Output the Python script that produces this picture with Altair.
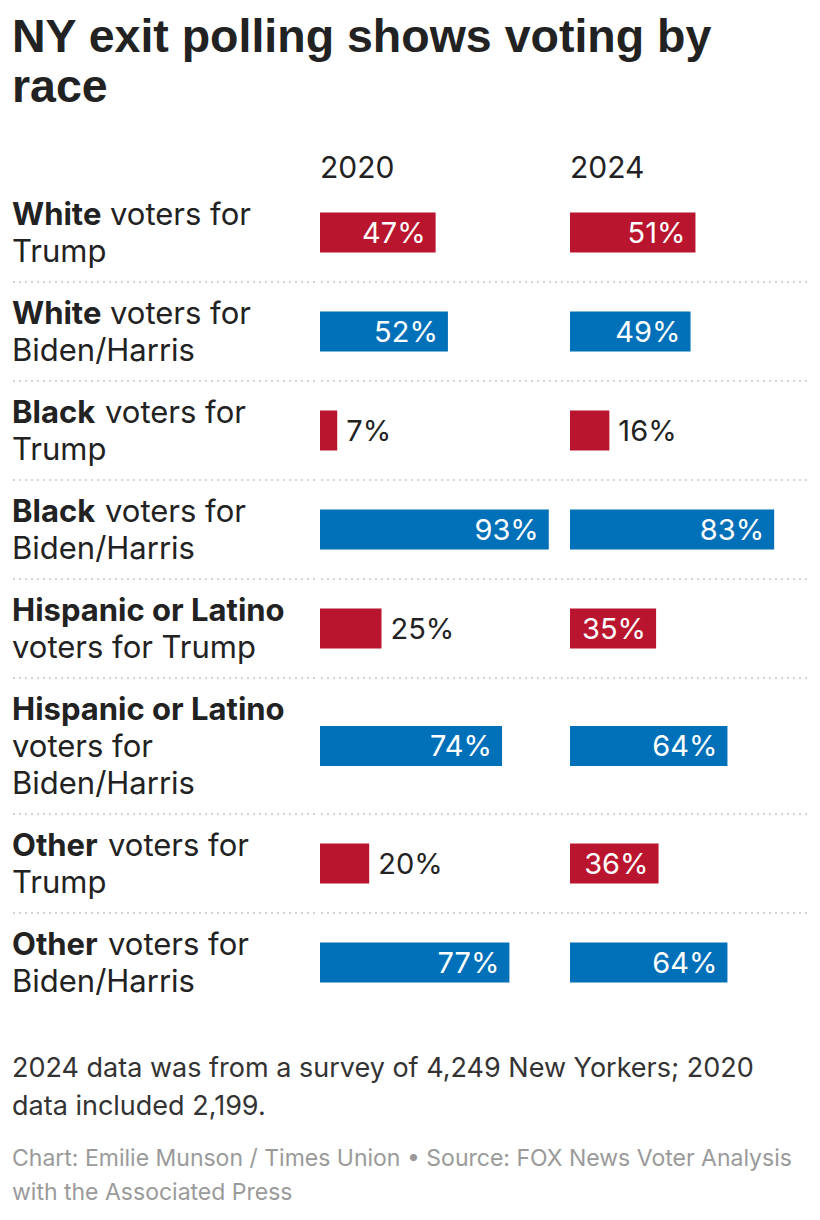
import altair as alt
import pandas as pd

# ---- content -------------------------------------------------------------
TITLE_LINES = ["NY exit polling shows voting by", "race"]
YEARS = ["2020", "2024"]

# "**bold**" marks the group name, "|" separates label lines
ROW_LABELS = [
    "**White** voters for|Trump",
    "**White** voters for|Biden/Harris",
    "**Black** voters for|Trump",
    "**Black** voters for|Biden/Harris",
    "**Hispanic or Latino**|voters for Trump",
    "**Hispanic or Latino**|voters for|Biden/Harris",
    "**Other** voters for|Trump",
    "**Other** voters for|Biden/Harris",
]
CANDIDATES = ["Trump", "Biden/Harris", "Trump", "Biden/Harris",
              "Trump", "Biden/Harris", "Trump", "Biden/Harris"]
SHARE_2020 = [47, 52, 7, 93, 25, 74, 20, 77]
SHARE_2024 = [51, 49, 16, 83, 35, 64, 36, 64]

NOTE_LINES = ["2024 data was from a survey of 4,249 New Yorkers; 2020",
              "data included 2,199."]
SOURCE_LINES = ["Chart: Emilie Munson / Times Union \u2022 Source: FOX News Voter Analysis",
                "with the Associated Press"]

# ---- styling -------------------------------------------------------------
RED = "#B9152E"
BLUE = "#0070B8"
INK = "#222222"
BODY_FONT = "Inter"
TITLE_FONT = "Liberation Sans"
LABEL_SIZE = 31
VALUE_SIZE = 29
LINE_H = 37
BAR_H = 40
LABEL_W = 308
COL_W = [250, 238]
BAR_RANGE = 246          # pixels for 0-100 %
INSIDE_MIN = 30          # shares at or above this get their label inside the bar
BOLD_W = {"White": 98, "Black": 93, "Other": 96}   # advance of the bold group word

one = pd.DataFrame({"k": [0]})


def text_layer(txt, x, y, w, h, size=LABEL_SIZE, weight="normal", color=INK,
               font=BODY_FONT, baseline="middle", align="left"):
    return alt.Chart(pd.DataFrame({"t": [txt]})).mark_text(
        font=font, fontSize=size, fontWeight=weight, color=color,
        baseline=baseline, align=align
    ).encode(text="t:N", x=alt.value(x), y=alt.value(y)).properties(width=w, height=h)


def separator(w, h):
    # kept 1px inside the panel so the stroke does not widen the panel's bounds
    return alt.Chart(one).mark_rule(
        color="#d4d4d4", strokeWidth=2, strokeDash=[2, 4]
    ).encode(x=alt.value(1), x2=alt.value(w - 1), y=alt.value(h - 1)).properties(width=w, height=h)


def label_panel(markup, h, sep):
    lines = markup.split("|")
    n = len(lines)
    layers = []
    for i, line in enumerate(lines):
        yc = h / 2 + (i - (n - 1) / 2) * LINE_H + 1
        if line.startswith("**"):
            bold, rest = line[2:].split("**")
            layers.append(text_layer(bold, 0, yc, LABEL_W, h, weight="bold"))
            rest = rest.strip()
            if rest:
                layers.append(text_layer(rest, BOLD_W[bold], yc, LABEL_W, h))
        else:
            layers.append(text_layer(line, 0, yc, LABEL_W, h))
    if sep:
        layers.append(separator(LABEL_W, h))
    return alt.layer(*layers)


def bar_panel(value, candidate, w, h, sep):
    df = pd.DataFrame({"value": [value], "candidate": [candidate], "label": [f"{value}%"]})
    xs = alt.Scale(domain=[0, 100], range=[0, BAR_RANGE])
    base = alt.Chart(df).properties(width=w, height=h)
    top = (h - BAR_H) / 2 - 1
    bar = base.mark_bar().encode(
        x=alt.X("value:Q", scale=xs, axis=None),
        x2=alt.datum(0),
        y=alt.value(top),
        y2=alt.value(top + BAR_H),
        color=alt.Color("candidate:N",
                        scale=alt.Scale(domain=["Trump", "Biden/Harris"], range=[RED, BLUE]),
                        legend=None),
    )
    inside = value >= INSIDE_MIN
    lab = base.mark_text(
        font=BODY_FONT, fontSize=VALUE_SIZE, baseline="middle",
        align="right" if inside else "left",
        dx=-10 if inside else 9,
        color="white" if inside else INK,
    ).encode(x=alt.X("value:Q", scale=xs, axis=None), y=alt.value(top + BAR_H / 2 + 1), text="label:N")
    layers = [bar, lab]
    if sep:
        layers.append(separator(w, h))
    return alt.layer(*layers)


# ---- header: title and column years -------------------------------------
TOP_H = 184
FULL_W = LABEL_W + sum(COL_W)
header = alt.layer(
    text_layer(TITLE_LINES[0], 0, 52, FULL_W, TOP_H, size=46.5, weight="bold",
               font=TITLE_FONT, baseline="alphabetic"),
    text_layer(TITLE_LINES[1], 0, 102, FULL_W, TOP_H, size=46.5, weight="bold",
               font=TITLE_FONT, baseline="alphabetic"),
    text_layer(YEARS[0], LABEL_W, 169, FULL_W, TOP_H, size=30),
    text_layer(YEARS[1], LABEL_W + COL_W[0], 169, FULL_W, TOP_H, size=30),
)

# ---- table rows -----------------------------------------------------------
rows = []
for i, markup in enumerate(ROW_LABELS):
    n_lines = len(markup.split("|"))
    h = 25 + LINE_H * n_lines
    sep = i < len(ROW_LABELS) - 1
    rows.append(alt.hconcat(
        label_panel(markup, h, sep),
        bar_panel(SHARE_2020[i], CANDIDATES[i], COL_W[0], h, sep),
        bar_panel(SHARE_2024[i], CANDIDATES[i], COL_W[1], h, sep),
        spacing=0,
    ))

# ---- footer notes ---------------------------------------------------------
FOOT_H = 205
footer = alt.layer(
    text_layer(NOTE_LINES[0], 0, 56, FULL_W, FOOT_H, size=27, color="#333333"),
    text_layer(NOTE_LINES[1], 0, 94, FULL_W, FOOT_H, size=27, color="#333333"),
    text_layer(SOURCE_LINES[0], 0, 146, FULL_W, FOOT_H, size=23, color="#9a9a9a"),
    text_layer(SOURCE_LINES[1], 0, 180, FULL_W, FOOT_H, size=23, color="#9a9a9a"),
)

chart = alt.vconcat(header, *rows, footer, spacing=0).properties(
    padding={"left": 12, "right": 12, "top": 0, "bottom": 0},
    background="white",
).configure_view(stroke=None)

chart.save("out.html", embed_options={"renderer": "svg", "actions": False})
